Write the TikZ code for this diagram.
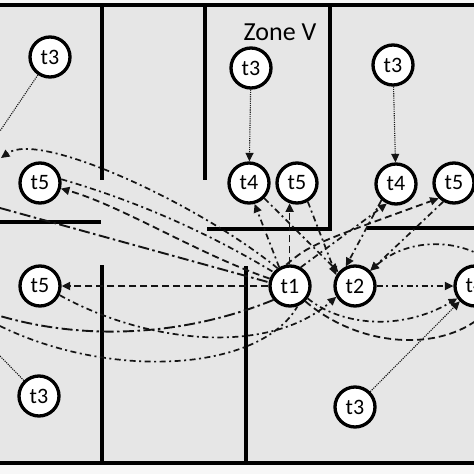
\documentclass[tikz,border=0pt]{standalone}
\usepackage{fontspec}
\setmainfont{Carlito}
\usetikzlibrary{arrows.meta}
\definecolor{bgc}{RGB}{230,230,230}
\definecolor{ink}{RGB}{20,20,20}
\tikzset{
  tnode/.style={circle,draw=black,line width=3.3pt,fill=white,minimum size=40pt,inner sep=0pt,font=\fontsize{22}{22}\selectfont},
  wall/.style={line width=3.6pt,draw=black},
  dsh/.style={draw=ink,line width=1.8pt,dash pattern=on 7pt off 4pt},
  dd/.style={draw=ink,line width=1.7pt,dash pattern=on 6pt off 3.5pt on 2pt off 3.5pt},
  ldd/.style={draw=ink,line width=1.9pt,dash pattern=on 11pt off 3.5pt on 2.5pt off 3.5pt},
  dotl/.style={draw=ink,line width=1.1pt,dash pattern=on 1.1pt off 1.1pt},
  >={Triangle[length=8.5pt,width=8pt]}
}
\begin{document}
\begin{tikzpicture}[x=1pt,y=-1pt]
\clip (0,0) rectangle (474,474);
\fill[white!97!black] (0,0) rectangle (474,474);
\fill[bgc] (0,5) rectangle (474,463);
% walls
\draw[wall] (0,5) -- (474,5);
\draw[wall] (0,463) -- (474,463);
\draw[wall] (102,5) -- (102,180);
\draw[wall] (205,5) -- (205,180);
\draw[wall] (330,5) -- (330,229) -- (207,229);
\draw[wall] (0,222) -- (101,222);
\draw[wall] (367,228) -- (474,228);
\draw[wall] (102,265) -- (102,463);
\draw[wall] (246,266) -- (246,463);
\node[font=\fontsize{26}{26}\selectfont] (zone) at (280,32) {Zone V};
% nodes
\node[tnode] (t3a) at (50,57) {t3};
\node[tnode] (t5a) at (40,183) {t5};
\node[tnode] (t3b) at (251,68) {t3};
\node[tnode] (t4b) at (249,183) {t4};
\node[tnode] (t5b) at (297,183) {t5};
\node[tnode] (t3c) at (393,65) {t3};
\node[tnode] (t4c) at (396,184) {t4};
\node[tnode] (t5c) at (454,183) {t5};
\node[tnode] (t5d) at (40,286) {t5};
\node[tnode] (t3d) at (39,396) {t3};
\node[tnode] (t1) at (290,286) {t1};
\node[tnode] (t2) at (355,286) {t2};
\node[tnode] (t4e) at (475,286) {t4};
\node[tnode] (t3e) at (355,407) {t3};
% free ends
\coordinate (e1) at (0,131);
\coordinate (e2) at (0,356);
\coordinate (e3) at (1,158);
\coordinate (e4) at (0,208);
\coordinate (e5) at (0,316);
\coordinate (e6) at (0,326);
\coordinate (e7) at (482,316);
\coordinate (e8) at (482,256);
% dotted
\draw[dotl] (t3a) -- (e1);
\draw[dotl,->] (t3b) -- (t4b);
\draw[dotl,->] (t3c) -- (t4c);
\draw[dotl] (t3d) -- (e2);
\draw[dotl,->] (t3e) -- (t4e);
% straight
\draw[dsh,->] (t1) -- (t5d);
\draw[dd,->] (t2) -- (t4e);
\draw[dsh,->] (t5b.250 |- t1.north) -- (t5b.250);
\draw[dd,->] (t1.120) -- (t4b.285);
\draw[dd,->] (t4b.315) -- (t2.140);
\draw[dd,->] (t5b.300) -- (t2.150);
\draw[dd,->] (t1.60) -- (t4c.245);
\draw[dsh,->] (t1.100) .. controls (310,245) .. (t5c.225);
\draw[dd,->] (t4c.228) -- (t2.115);
\draw[dd,->] (t5c.240) -- (t2.45);
% left bundle
\draw[dd,->] (t1.125) .. controls (200,205) and (40,130) .. (e3);
\draw[dd] (t5a.10) .. controls (150,205) and (220,240) .. (t1.140);
\draw[dsh,->] (t1.160) .. controls (200,255) and (120,205) .. (t5a.-15);
\draw[ldd] (e4) -- (t1.170);
% lower bundle
\draw[dd,->] (t5d.-25) .. controls (150,345) and (270,355) .. (t2.210);
\draw[ldd] (t1.220) .. controls (200,330) and (100,345) .. (e5);
\draw[dd] (e6) .. controls (110,380) and (260,372) .. (t1.-70);
% right
\draw[dd,->] (t1.-35) .. controls (340,325) and (400,332) .. (t4e.215);
\draw[dsh] (t1.-45) .. controls (360,348) and (440,352) .. (e7);
\draw[dd,->] (e8) .. controls (450,238) and (405,240) .. (t2.45);
\end{tikzpicture}
\end{document}
